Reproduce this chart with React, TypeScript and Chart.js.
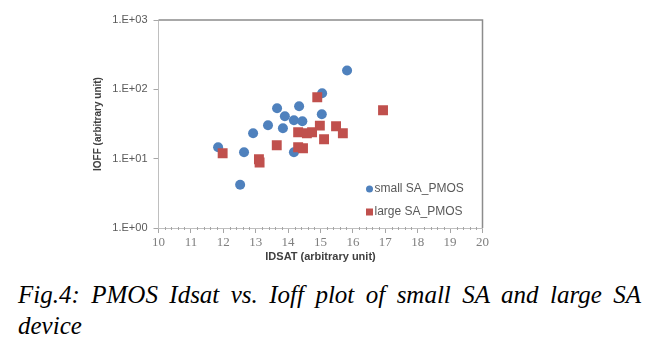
import React, { useEffect, useRef } from "react";
import { Chart, registerables } from "chart.js";

Chart.register(...registerables);

// small SA_PMOS (blue circles)
const smallIdsat = [11.84, 12.52, 12.64, 12.92, 13.38, 13.66, 13.84, 13.9, 14.18, 14.18, 14.34, 14.44, 15.04, 15.05, 15.82];
const smallIoff = [14.6, 4.2, 12.4, 23.3, 30.4, 53.3, 27.5, 40.9, 12.4, 35.8, 56.9, 34.7, 43.7, 87.6, 187];

// large SA_PMOS (red squares)
const largeIdsat = [11.98, 13.1, 13.12, 13.65, 14.31, 14.31, 14.46, 14.58, 14.74, 14.9, 14.98, 15.11, 15.48, 15.69, 16.93];
const largeIoff = [12.0, 9.8, 8.8, 15.6, 24.0, 14.6, 14.1, 23.3, 24.0, 76.7, 30.0, 19.1, 29.4, 23.3, 50.0];

const seriesNames = ["small SA_PMOS", "large SA_PMOS"];
const yTickValues = [1, 10, 100, 1000];
const yTickLabels = ["1.E+00", "1.E+01", "1.E+02", "1.E+03"];
const xMin = 10;
const xMax = 20;

const BLUE = "#4F81BD";
const RED = "#C0504D";

const framePlugin = {
  id: "frame",
  beforeDatasetsDraw(chart: any) {
    const { ctx, chartArea, scales } = chart;
    const { left, right, top, bottom } = chartArea;
    ctx.save();
    ctx.strokeStyle = "#8c8c8c";
    ctx.lineWidth = 1.5;
    ctx.beginPath();
    ctx.moveTo(left, top);
    ctx.lineTo(right, top);
    ctx.lineTo(right, bottom);
    ctx.stroke();
    // minor ticks on x axis
    const x = scales.x;
    ctx.strokeStyle = "#a6a6a6";
    ctx.lineWidth = 1;
    ctx.beginPath();
    for (let i = 1; i < (xMax - xMin) * 5; i++) {
      if (i % 5 === 0) continue;
      const px = Math.round(x.getPixelForValue(xMin + i * 0.2)) + 0.5;
      ctx.moveTo(px, bottom - 1);
      ctx.lineTo(px, bottom + 2);
    }
    ctx.stroke();
    ctx.restore();
  },
  afterDraw(chart: any) {
    const { ctx, chartArea } = chart;
    const mx = chartArea.left + 211;
    const y1 = chartArea.top + 169;
    const y2 = chartArea.top + 192;
    ctx.save();
    ctx.fillStyle = BLUE;
    ctx.beginPath();
    ctx.arc(mx, y1, 3.5, 0, Math.PI * 2);
    ctx.fill();
    ctx.fillStyle = RED;
    ctx.fillRect(mx - 3.5, y2 - 3.5, 7, 7);
    ctx.fillStyle = "#595959";
    ctx.font = "12px 'Liberation Sans'";
    ctx.textBaseline = "middle";
    ctx.textAlign = "left";
    ctx.fillText(seriesNames[0], mx + 5, y1);
    ctx.fillText(seriesNames[1], mx + 5, y2);
    ctx.restore();
  },
};

export default function App() {
  const ref = useRef<HTMLCanvasElement>(null);

  useEffect(() => {
    const chart = new Chart(ref.current as HTMLCanvasElement, {
      type: "scatter",
      data: {
        datasets: [
          {
            label: seriesNames[0],
            data: smallIdsat.map((v, i) => ({ x: v, y: smallIoff[i] })),
            backgroundColor: BLUE,
            borderColor: BLUE,
            borderWidth: 0,
            pointStyle: "circle",
            pointRadius: 5,
            order: 1,
          },
          {
            label: seriesNames[1],
            data: largeIdsat.map((v, i) => ({ x: v, y: largeIoff[i] })),
            backgroundColor: RED,
            borderColor: RED,
            borderWidth: 0,
            pointStyle: "rect",
            pointRadius: 7,
            order: 0,
          },
        ],
      },
      options: {
        responsive: false,
        animation: false,
        layout: { padding: { left: 92, right: 165.5, top: 20, bottom: 0 } },
        plugins: { legend: { display: false }, tooltip: { enabled: false } },
        scales: {
          x: {
            type: "linear",
            min: xMin,
            max: xMax,
            ticks: {
              stepSize: 1,
              font: { family: "'Liberation Serif'", size: 13 },
              color: "#7f7f7f",
              padding: 2,
              maxRotation: 0,
            },
            grid: { drawOnChartArea: false, drawTicks: true, tickLength: 5, tickColor: "#a6a6a6" },
            border: { color: "#bfbfbf" },
            title: {
              display: true,
              text: "IDSAT (arbitrary unit)",
              font: { family: "'Liberation Sans'", size: 11, weight: "bold" },
              color: "#404040",
              padding: { top: 0, bottom: 6 },
            },
            afterFit: (s: any) => {
              s.height = 42;
            },
          },
          y: {
            type: "logarithmic",
            min: 1,
            max: 1000,
            afterBuildTicks: (s: any) => {
              s.ticks = yTickValues.map((v) => ({ value: v }));
            },
            ticks: {
              callback: (v: any) => yTickLabels[yTickValues.indexOf(Number(v))] ?? "",
              font: { family: "'Liberation Sans'", size: 11 },
              color: "#595959",
              padding: 6,
            },
            grid: { drawOnChartArea: false, drawTicks: true, tickLength: 5, tickColor: "#a6a6a6" },
            border: { color: "#bfbfbf" },
            title: {
              display: true,
              text: "IOFF (arbitrary unit)",
              font: { family: "'Liberation Sans'", size: 10, weight: "bold" },
              color: "#404040",
              padding: 0,
            },
            afterFit: (s: any) => {
              s.width = 66.5;
            },
          },
        },
      },
      plugins: [framePlugin],
    } as any);
    return () => chart.destroy();
  }, []);

  return (
    <div style={{ position: "absolute", left: 0, top: 0, width: 648, height: 353, background: "#fff" }}>
      <div style={{ position: "absolute", left: 0, top: 0, width: 648, height: 270 }}>
        <canvas ref={ref} width={648} height={270} style={{ display: "block", width: 648, height: 270 }} />
      </div>
      <div
        style={{
          position: "absolute",
          left: 18,
          top: 279,
          width: 623,
          fontFamily: "'Liberation Serif', serif",
          fontStyle: "italic",
          fontSize: 25,
          lineHeight: "31px",
          color: "#000",
        }}
      >
        <div style={{ textAlign: "justify", textAlignLast: "justify" as any }}>
          Fig.4: PMOS Idsat vs. Ioff plot of small SA and large SA
        </div>
        <div>device</div>
      </div>
    </div>
  );
}
